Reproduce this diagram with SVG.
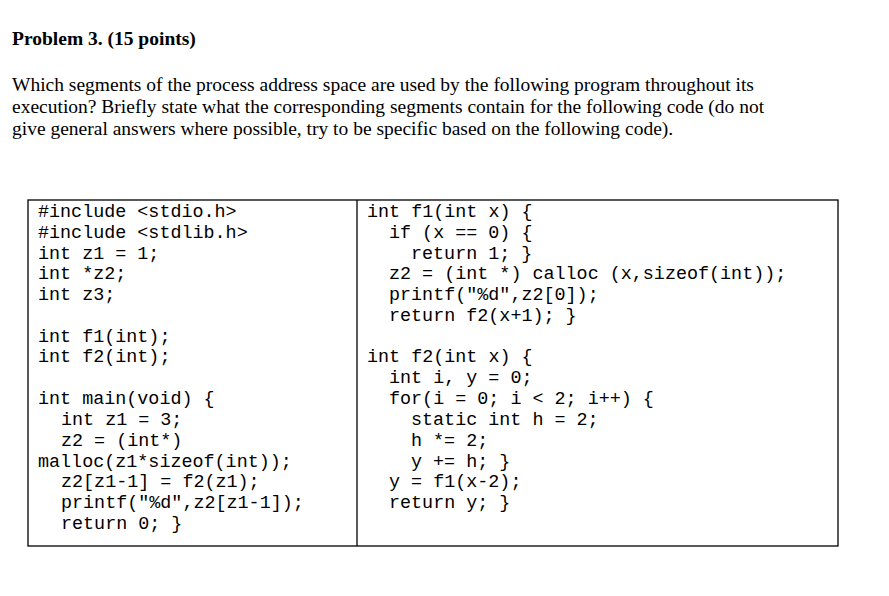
<svg xmlns="http://www.w3.org/2000/svg" width="889" height="596" viewBox="0 0 889 596">
<style>
.t{font-family:"Liberation Serif",serif;font-size:19.5px;fill:#000}
.c{font-family:"Liberation Mono",monospace;font-size:18.4px;fill:#000;white-space:pre}
</style>
<rect width="889" height="596" fill="#fff"/>
<text class="t" x="12" y="45" font-weight="bold">Problem 3. (15 points)</text>
<text class="t" x="12" y="91">Which segments of the process address space are used by the following program throughout its</text>
<text class="t" x="12" y="113">execution? Briefly state what the corresponding segments contain for the following code (do not</text>
<text class="t" x="12" y="135">give general answers where possible, try to be specific based on the following code).</text>
<g id="table" fill="none" stroke="#000" stroke-width="1.3">
<rect x="28" y="200" width="810" height="346"/>
<line x1="357" y1="200" x2="357" y2="546"/>
</g>
<g id="left">
<text class="c" x="38" y="217">#include &lt;stdio.h&gt;</text>
<text class="c" x="38" y="238">#include &lt;stdlib.h&gt;</text>
<text class="c" x="38" y="259">int z1 = 1;</text>
<text class="c" x="38" y="279">int *z2;</text>
<text class="c" x="38" y="300">int z3;</text>
<text class="c" x="38" y="342">int f1(int);</text>
<text class="c" x="38" y="362">int f2(int);</text>
<text class="c" x="38" y="404">int main(void) {</text>
<text class="c" x="61" y="425">int z1 = 3;</text>
<text class="c" x="61" y="446">z2 = (int*)</text>
<text class="c" x="38" y="467">malloc(z1*sizeof(int));</text>
<text class="c" x="61" y="487">z2[z1-1] = f2(z1);</text>
<text class="c" x="61" y="508">printf("%d",z2[z1-1]);</text>
<text class="c" x="61" y="529">return 0; }</text>
</g>
<g id="right">
<text class="c" x="367" y="217">int f1(int x) {</text>
<text class="c" x="389" y="238">if (x == 0) {</text>
<text class="c" x="411" y="259">return 1; }</text>
<text class="c" x="389" y="279">z2 = (int *) calloc (x,sizeof(int));</text>
<text class="c" x="389" y="300">printf("%d",z2[0]);</text>
<text class="c" x="389" y="321">return f2(x+1); }</text>
<text class="c" x="367" y="362">int f2(int x) {</text>
<text class="c" x="389" y="383">int i, y = 0;</text>
<text class="c" x="389" y="404">for(i = 0; i &lt; 2; i++) {</text>
<text class="c" x="411" y="425">static int h = 2;</text>
<text class="c" x="411" y="446">h *= 2;</text>
<text class="c" x="411" y="467">y += h; }</text>
<text class="c" x="389" y="487">y = f1(x-2);</text>
<text class="c" x="389" y="508">return y; }</text>
</g>
</svg>
